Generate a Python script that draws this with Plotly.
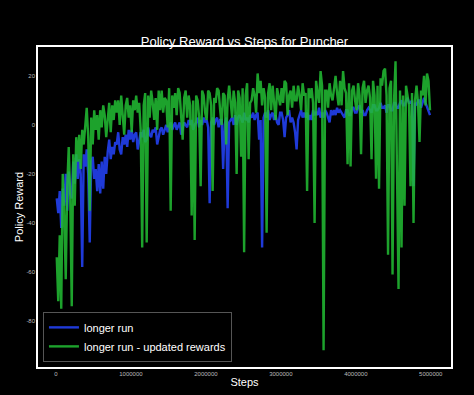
import numpy as np
import plotly.graph_objects as go

step0 = 10000
step_size = 20000

blue = [-30, -36, -27, -42, -26, -33, -20, -35, -19, -28,
        -30, -15, -24, -12, -22, -14, -20, -58, -12, -17,
        -10, -20, -48, -15, -13, -22, -18, -27, -16, -28,
        -15, -26, -13, -20, -11, -6, -14, -9, -12, -7,
        -8, -3, -10, -12, -5, -8, -4, -9, -2, -6,
        -2, -7, -4, -3, -10, -6, -3, -5, -2, -7,
        -6, -1, -4, -5, -2, -3, -1, -8, -4, -2,
        -1, -4, -2, 0, -3, -1, 1, -2, 0, 1,
        -2, 0, 1, -4, -1, 1, 0, -1, 2, 0,
        2, -2, 0, 1, 3, -1, 2, 0, 3, 1,
        2, -1, -32, 1, 3, 0, 2, 3, -1, 2,
        2, -18, 0, 3, -34, 1, 2, 3, 0, 4,
        0, 3, 4, 2, 1, 5, 2, 3, 1, 4,
        3, 5, 2, 4, 5, -6, 2, -50, 3, 5,
        3, 6, 2, 4, 5, 2, 4, 1, 0, 5,
        5, 2, -5, 3, 4, 6, 1, 3, 1, -3,
        -10, 2, 4, 6, 3, 5, 3, 5, 2, 4,
        2, 6, 4, 5, 4, 7, 3, 5, 3, 6,
        5, 3, 1, 6, 4, 6, 4, 7, 5, 6,
        5, 4, 3, 6, 6, 4, 4, 7, 7, 5,
        5, 7, 8, 5, 6, 4, 4, 6, 7, 6,
        5, 8, 8, 6, 6, 7, 9, 7, 7, 8,
        5, 8, 8, 6, 6, 9, 9, 7, 7, 9,
        10, 8, 8, 10, 11, 9, 9, 10, -25, 9,
        8, 10, 10, 7, 9, 11, 9, 7, 6, 4]

green = [-54, -72, -45, -75, -20, -35, -63, -25, -9, -30,
         -74, -12, -33, -5, -15, -4, -18, -2, -8, 0,
         7, -5, -35, 3, -8, 6, -2, 4, -6, 6,
         -1, 8, 4, -5, 2, 9, -3, 8, 2, 10,
         5, 10, 0, 12, 4, -4, 8, 11, 3, 8,
         -3, 10, 6, 12, 5, 9, -2, -50, 8, 13,
         -48, 12, 3, 14, 9, 2, 11, -2, 14, 6,
         14, 5, 11, 10, -1, 15, -35, 12, 7, 13,
         4, 15, 13, 3, -6, 11, 14, 3, 12, 8,
         -37, 10, -47, 12, 10, 3, -25, 14, 12, 5,
         2, 14, 13, 8, -27, 11, 9, 15, 14, 6,
         0, 13, 12, -8, 10, 16, 10, 3, 14, 9,
         -20, 14, 11, -13, 15, -52, 12, 17, -14, 9,
         10, 15, 12, 5, 21, 13, 18, 8, 15, 11,
         -44, 13, 17, 6, 16, 10, 2, 15, 12, 8,
         15, 9, 18, 17, 4, 12, 14, 7, 16, 10,
         10, 16, 12, 6, 17, 12, 13, -27, 15, 11,
         15, 9, -40, 18, 13, 9, 22, 16, -92, 14,
         14, 7, 17, 12, 10, 16, 20, 13, 8, 18,
         8, 22, 15, 13, -16, 17, -17, 14, 16, 10,
         6, 17, 12, -12, 15, 18, 9, 14, 16, 11,
         -14, 18, 12, -22, 16, -26, 19, 16, 22, 23,
         12, -53, 15, 18, -61, 10, 26, -20, -67, 14,
         -50, 12, -33, 16, 12, 8, -25, 13, -40, 10,
         16, 9, -7, 14, 12, 20, 8, 21, 18, 6]

x_blue = step0 + step_size * np.arange(len(blue))
x_green = step0 + step_size * np.arange(len(green))

x_ticks = [0, 1000000, 2000000, 3000000, 4000000, 5000000]
y_ticks = [-80, -60, -40, -20, 0, 20]

fig = go.Figure()
fig.add_trace(go.Scatter(x=x_blue, y=blue, mode="lines", name="longer run",
                         line=dict(color="#1f3ad8", width=2.4)))
fig.add_trace(go.Scatter(x=x_green, y=green, mode="lines",
                         name="longer run - updated rewards",
                         line=dict(color="rgba(34,190,52,0.85)", width=2.4)))

fig.update_layout(
    width=474, height=395,
    paper_bgcolor="black", plot_bgcolor="black",
    margin=dict(l=38, r=23, t=47, b=28, autoexpand=False),
    font=dict(family="Liberation Sans, Arial, sans-serif", color="white"),
    title=dict(text="Policy Reward vs Steps for Puncher", x=0.5, xref="paper",
               xanchor="center", y=1, yref="paper", yanchor="bottom",
               pad=dict(b=1), font=dict(size=13, color="white")),
    showlegend=True,
    legend=dict(x=0.012, y=0.016, xanchor="left", yanchor="bottom",
                bgcolor="black", bordercolor="#555555", borderwidth=1,
                font=dict(size=11, color="white"), tracegroupgap=0,
                itemwidth=30),
)
fig.update_xaxes(range=[-240000, 5270000], tickvals=x_ticks,
                 ticktext=[str(v) for v in x_ticks], automargin=False,
                 showgrid=False, zeroline=False,
                 showline=True, linecolor="white", linewidth=1.5, mirror=True,
                 ticks="", tickfont=dict(size=6, color="#bbbbbb"),
                 title=dict(text="Steps", font=dict(size=11, color="white"), standoff=2))
fig.update_yaxes(range=[-98.8, 31.8], tickvals=y_ticks,
                 ticktext=[str(v) for v in y_ticks], automargin=False,
                 showgrid=False, zeroline=False,
                 showline=True, linecolor="white", linewidth=1.5, mirror=True,
                 ticks="", tickfont=dict(size=6, color="#bbbbbb"),
                 title=dict(text="Policy Reward", font=dict(size=11, color="white"), standoff=1))

fig.write_html("out.html", config={"displayModeBar": False},
               post_script="document.body.style.margin='0';document.body.style.background='black';")
